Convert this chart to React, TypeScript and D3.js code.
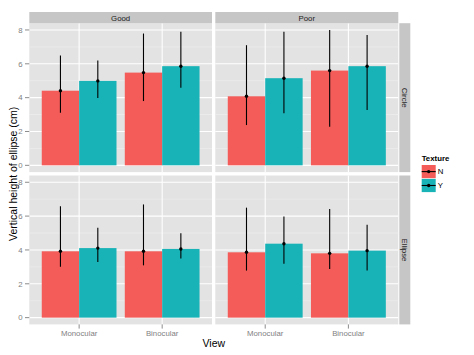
import React from "react";
import * as d3 from "d3";

const views = ["Monocular", "Binocular"];
const textures = ["N", "Y"];
const facetCols = ["Good", "Poor"];
const facetRows = ["Circle", "Ellipse"];
const yTicks = [0, 2, 4, 6, 8];
const yMinor = [1, 3, 5, 7];

// order: Monocular-N, Monocular-Y, Binocular-N, Binocular-Y
const goodCircleMean = [4.41, 4.99, 5.48, 5.86];
const goodCircleLow = [3.11, 3.98, 3.8, 4.59];
const goodCircleHigh = [6.49, 6.19, 7.79, 7.89];
const poorCircleMean = [4.08, 5.15, 5.6, 5.86];
const poorCircleLow = [2.38, 3.08, 2.28, 3.27];
const poorCircleHigh = [7.1, 7.89, 8.0, 7.71];
const goodEllipseMean = [3.92, 4.11, 3.92, 4.06];
const goodEllipseLow = [3.01, 3.29, 3.09, 3.5];
const goodEllipseHigh = [6.59, 5.31, 6.69, 4.98];
const poorEllipseMean = [3.86, 4.37, 3.8, 3.96];
const poorEllipseLow = [2.78, 3.19, 2.87, 2.78];
const poorEllipseHigh = [6.5, 5.98, 6.42, 5.49];

const colors = ["#F35C58", "#18B3B7"];
const FONT = "'Liberation Sans', Arial, Helvetica, sans-serif";

const panelsX = [
  [29.3, 212],
  [215.3, 398.3],
];
const panelsY = [
  [23.2, 172.1],
  [175.5, 324.4],
];

const facetData = [
  [
    [goodCircleMean, goodCircleLow, goodCircleHigh],
    [poorCircleMean, poorCircleLow, poorCircleHigh],
  ],
  [
    [goodEllipseMean, goodEllipseLow, goodEllipseHigh],
    [poorEllipseMean, poorEllipseLow, poorEllipseHigh],
  ],
];

export default function App() {
  const panels: React.ReactNode[] = [];
  facetRows.forEach((row, ri) => {
    const [yt, yb] = panelsY[ri];
    const y = d3.scaleLinear().domain([-0.4, 8.4]).range([yb, yt]);
    facetCols.forEach((col, ci) => {
      const [xl, xr] = panelsX[ci];
      const x = d3.scaleLinear().domain([0.4, 2.6]).range([xl, xr]);
      const [mean, low, high] = facetData[ri][ci];
      const els: React.ReactNode[] = [];
      els.push(
        <rect key="bg" x={xl} y={yt} width={xr - xl} height={yb - yt} fill="#E3E3E3" />
      );
      yMinor.forEach((t) =>
        els.push(
          <line key={"mi" + t} x1={xl} x2={xr} y1={y(t)} y2={y(t)} stroke="#F0F0F0" strokeWidth={0.6} />
        )
      );
      yTicks.forEach((t) =>
        els.push(
          <line key={"ma" + t} x1={xl} x2={xr} y1={y(t)} y2={y(t)} stroke="#FFFFFF" strokeWidth={1.1} />
        )
      );
      views.forEach((v, vi) =>
        els.push(
          <line key={"vx" + v} x1={x(vi + 1)} x2={x(vi + 1)} y1={yt} y2={yb} stroke="#FFFFFF" strokeWidth={1.1} />
        )
      );
      views.forEach((v, vi) => {
        textures.forEach((t, ti) => {
          const k = vi * 2 + ti;
          const c = vi + 1 + (ti === 0 ? -0.225 : 0.225);
          const x0 = x(c - 0.225);
          const x1 = x(c + 0.225);
          els.push(
            <rect key={"b" + k} x={x0} y={y(mean[k])} width={x1 - x0} height={y(0) - y(mean[k])} fill={colors[ti]} />
          );
        });
      });
      views.forEach((v, vi) => {
        textures.forEach((t, ti) => {
          const k = vi * 2 + ti;
          const c = vi + 1 + (ti === 0 ? -0.225 : 0.225);
          els.push(
            <line key={"e" + k} x1={x(c)} x2={x(c)} y1={y(high[k])} y2={y(low[k])} stroke="#000" strokeWidth={1.1} />
          );
          els.push(<circle key={"p" + k} cx={x(c)} cy={y(mean[k])} r={1.7} fill="#000" />);
        });
      });
      panels.push(<g key={row + col}>{els}</g>);
    });
  });

  // strips
  const strips: React.ReactNode[] = [];
  facetCols.forEach((col, ci) => {
    const [xl, xr] = panelsX[ci];
    strips.push(
      <g key={"st" + col}>
        <rect x={xl} y={12} width={xr - xl} height={11.2} fill="#C6C6C6" />
        <text x={(xl + xr) / 2} y={20.6} textAnchor="middle" fontSize={7.8} fill="#1A1A1A" fontFamily={FONT}>
          {col}
        </text>
      </g>
    );
  });
  facetRows.forEach((row, ri) => {
    const [yt, yb] = panelsY[ri];
    const cy = (yt + yb) / 2;
    strips.push(
      <g key={"sr" + row}>
        <rect x={399.3} y={yt} width={11} height={yb - yt} fill="#C6C6C6" />
        <text
          transform={`translate(402.2,${cy}) rotate(90)`}
          textAnchor="middle"
          fontSize={7.8}
          fill="#1A1A1A"
          fontFamily={FONT}
        >
          {row}
        </text>
      </g>
    );
  });

  // axes
  const axes: React.ReactNode[] = [];
  facetRows.forEach((row, ri) => {
    const [yt, yb] = panelsY[ri];
    const y = d3.scaleLinear().domain([-0.4, 8.4]).range([yb, yt]);
    yTicks.forEach((t) => {
      axes.push(
        <g key={"yt" + row + t}>
          <line x1={25} x2={29.3} y1={y(t)} y2={y(t)} stroke="#7F7F7F" strokeWidth={0.9} />
          <text x={22.5} y={y(t) + 2.8} textAnchor="end" fontSize={7.8} fill="#7F7F7F" fontFamily={FONT}>
            {t}
          </text>
        </g>
      );
    });
  });
  facetCols.forEach((col, ci) => {
    const [xl, xr] = panelsX[ci];
    const x = d3.scaleLinear().domain([0.4, 2.6]).range([xl, xr]);
    views.forEach((v, vi) => {
      axes.push(
        <g key={"xt" + col + v}>
          <line x1={x(vi + 1)} x2={x(vi + 1)} y1={324.4} y2={328.6} stroke="#7F7F7F" strokeWidth={0.9} />
          <text x={x(vi + 1)} y={336} textAnchor="middle" fontSize={7.8} fill="#7F7F7F" fontFamily={FONT}>
            {v}
          </text>
        </g>
      );
    });
  });

  return (
    <svg
      width={474}
      height={355}
      style={{ position: "absolute", left: 0, top: 0, background: "#fff" }}
    >
      <rect x={0} y={0} width={474} height={355} fill="#fff" />
      {panels}
      {strips}
      {axes}
      <text x={213.8} y={346.5} textAnchor="middle" fontSize={10.5} fill="#000" fontFamily={FONT}>
        View
      </text>
      <text
        transform={`translate(16.5,${(23.2 + 324.4) / 2}) rotate(-90)`}
        textAnchor="middle"
        fontSize={10.5}
        fill="#000"
        fontFamily={FONT}
      >
        Vertical height of ellipse (cm)
      </text>
      <text x={421.7} y={160.7} fontSize={7.8} fontWeight="bold" fill="#000" fontFamily={FONT}>
        Texture
      </text>
      {textures.map((t, ti) => {
        const ky = 165 + ti * 13.9;
        return (
          <g key={"lg" + t}>
            <rect x={421.7} y={ky} width={14} height={13.2} fill={colors[ti]} />
            <line x1={421.7} x2={435.7} y1={ky + 6.6} y2={ky + 6.6} stroke="#000" strokeWidth={1.1} />
            <circle cx={428.7} cy={ky + 6.6} r={1.7} fill="#000" />
            <text x={437.8} y={ky + 9.3} fontSize={7.8} fill="#000" fontFamily={FONT}>
              {t}
            </text>
          </g>
        );
      })}
    </svg>
  );
}
